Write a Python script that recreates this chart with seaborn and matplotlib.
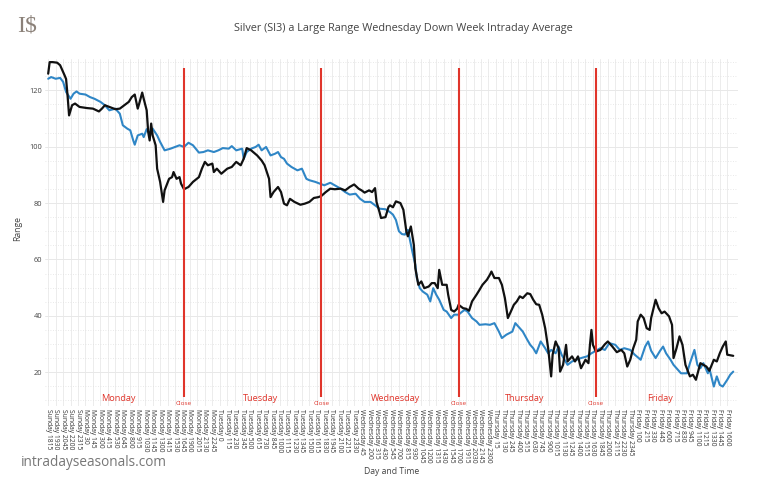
import matplotlib
matplotlib.use("Agg")
import matplotlib.pyplot as plt
import seaborn as sns
import pandas as pd

# trading sessions: evening of one day through 17:00 of the next, 15 minute bars
days = ["Sunday", "Monday", "Tuesday", "Wednesday", "Thursday", "Friday"]
evening_times = [1815, 1830, 1845, 1900, 1915, 1930, 1945, 2000, 2015, 2030, 2045, 2100,
                 2115, 2130, 2145, 2200, 2215, 2230, 2245, 2300, 2315, 2330, 2345]
morning_times = [h * 100 + m for h in range(0, 17) for m in (0, 15, 30, 45)] + [1700]

# black line: large range wednesday down week
black_idx = [0, 1, 3, 6, 8, 10, 11, 12, 13, 14, 16, 18, 21, 26, 30, 34, 36, 38, 41, 45,
             48, 51, 54, 56, 58, 60, 61, 63, 64, 66, 67, 68, 69, 70, 72, 73, 75, 77, 78, 81,
             83, 84, 86, 88, 89, 91, 94, 97, 101, 103, 105, 107, 110, 111, 113, 116, 120, 123, 126, 129,
             131, 133, 136, 140, 143, 145, 148, 149, 151, 154, 156, 158, 160, 162, 165, 169, 172, 175, 178, 181,
             183, 186, 189, 192, 196, 199, 202, 205, 208, 210, 212, 215, 217, 219, 220, 222, 223, 226, 228, 229,
             231, 233, 236, 238, 240, 241, 243, 245, 246, 248, 250, 252, 255, 257, 259, 261, 262, 264, 267, 268,
             270, 272, 274, 275, 278, 280, 282, 284, 287, 289, 291, 294, 296, 297, 299, 302, 304, 306, 308, 310,
             312, 314, 316, 318, 321, 323, 325, 327, 329, 331, 333, 335, 337, 338, 340, 342, 343, 345, 347, 348,
             351, 353, 355, 357, 360, 362, 363, 364, 365, 367, 370, 373, 375, 378, 381, 384, 386, 388, 390, 392,
             394, 395, 397, 399, 401, 403, 404, 407, 409, 411, 413, 416, 418, 419, 421, 423, 425, 427, 430, 432,
             434, 437, 439, 441, 443, 446, 448, 450, 452, 454, 455, 458, 459]
black_val = [125.9, 130.0, 130.0, 129.8, 128.9, 126.5, 125.3, 124.0, 118.0, 111.1, 114.7, 115.3, 114.1, 113.7, 113.5, 112.5, 113.5, 114.7, 114.1, 113.3,
             113.5, 114.7, 115.9, 117.6, 118.5, 113.5, 115.3, 119.2, 117.0, 112.9, 105.2, 102.2, 108.2, 104.0, 100.5, 92.2, 87.5, 80.4, 84.5, 88.6,
             89.2, 91.0, 88.6, 89.2, 86.9, 84.9, 85.7, 87.5, 89.2, 92.2, 94.6, 93.4, 94.0, 91.0, 92.2, 90.4, 92.2, 92.8, 94.6, 93.4,
             95.7, 99.5, 98.7, 96.9, 95.1, 93.4, 88.6, 82.1, 83.9, 85.7, 83.9, 79.8, 79.2, 81.5, 80.4, 79.4, 79.8, 80.4, 81.8, 82.1,
             82.5, 83.9, 85.1, 84.9, 85.1, 84.5, 85.7, 86.6, 85.1, 84.5, 83.7, 84.5, 83.9, 85.3, 80.4, 76.8, 74.7, 75.0, 78.6, 79.2,
             78.5, 80.6, 80.0, 77.6, 69.9, 68.2, 71.7, 65.2, 56.9, 51.0, 52.2, 49.8, 50.4, 51.6, 51.6, 49.8, 56.3, 51.0, 51.0, 47.5,
             42.1, 41.5, 42.5, 43.9, 42.7, 42.5, 41.8, 45.1, 47.5, 49.2, 51.0, 52.8, 54.6, 55.7, 53.4, 53.4, 51.0, 46.3, 39.2, 41.5,
             43.9, 45.1, 46.9, 46.3, 48.0, 47.7, 45.7, 44.1, 43.9, 40.4, 35.6, 28.5, 18.5, 26.2, 30.9, 28.5, 20.2, 22.6, 29.7, 23.8,
             25.6, 23.8, 25.6, 21.4, 24.4, 23.2, 29.7, 35.0, 29.7, 27.3, 27.9, 29.9, 30.9, 29.1, 27.1, 27.9, 26.7, 22.0, 24.4, 28.5,
             31.5, 38.0, 40.4, 39.2, 35.6, 35.0, 39.2, 45.7, 42.7, 40.9, 41.5, 39.8, 36.8, 25.0, 28.5, 32.7, 29.7, 22.6, 18.5, 19.1,
             17.3, 23.2, 22.6, 22.0, 20.5, 24.4, 23.8, 26.7, 29.1, 30.9, 26.2, 25.9, 25.8]

# blue line: intraday average
blue_idx = [0, 2, 5, 8, 10, 12, 15, 17, 19, 21, 25, 28, 31, 35, 38, 41, 45, 48, 50, 53,
            55, 57, 58, 60, 63, 64, 66, 68, 70, 73, 75, 78, 82, 85, 88, 91, 94, 97, 101, 104,
            107, 111, 114, 117, 121, 123, 126, 130, 131, 133, 136, 139, 141, 143, 146, 149, 152, 154, 156, 158,
            160, 163, 167, 170, 173, 175, 179, 182, 185, 189, 192, 196, 199, 202, 206, 209, 212, 216, 219, 222,
            226, 229, 231, 233, 235, 237, 239, 241, 244, 246, 247, 249, 251, 254, 256, 258, 260, 262, 265, 267,
            270, 272, 275, 277, 279, 281, 284, 287, 289, 293, 296, 299, 302, 304, 307, 311, 313, 316, 318, 321,
            323, 325, 327, 330, 333, 335, 337, 340, 342, 344, 346, 348, 351, 354, 357, 361, 364, 367, 370, 373,
            376, 380, 383, 386, 390, 393, 397, 400, 402, 404, 407, 410, 412, 414, 417, 419, 421, 424, 428, 430,
            433, 435, 437, 439, 442, 443, 446, 448, 450, 452, 455, 457, 459]
blue_val = [124.1, 124.7, 124.1, 124.4, 123.0, 119.4, 117.0, 118.8, 119.6, 118.8, 118.5, 117.6, 117.0, 115.9, 114.7, 112.9, 113.5, 111.7, 107.6, 106.4,
            105.8, 102.2, 100.7, 104.0, 104.6, 103.4, 106.2, 104.6, 106.4, 104.0, 101.7, 98.7, 99.3, 99.9, 100.5, 99.9, 101.4, 100.5, 97.9, 98.1,
            98.7, 98.1, 98.7, 99.5, 99.3, 100.2, 98.7, 99.3, 95.7, 98.1, 99.3, 99.9, 100.7, 98.7, 99.9, 96.9, 97.5, 98.1, 96.3, 95.7,
            94.0, 92.8, 91.6, 92.2, 88.6, 88.1, 87.5, 86.9, 86.3, 87.2, 86.3, 85.1, 83.9, 83.0, 83.3, 81.5, 80.4, 80.4, 79.2, 78.0,
            77.8, 76.8, 75.9, 74.0, 70.0, 69.0, 68.8, 70.5, 62.8, 58.1, 53.4, 49.8, 48.6, 47.5, 45.1, 49.8, 47.5, 45.7, 42.1, 41.5,
            39.2, 40.4, 40.4, 41.3, 42.1, 41.5, 39.2, 38.0, 36.8, 37.0, 36.8, 37.4, 34.4, 32.1, 33.3, 34.4, 37.4, 35.6, 34.4, 31.5,
            29.7, 28.5, 26.7, 30.9, 28.5, 26.7, 27.9, 26.7, 29.1, 26.2, 24.4, 22.6, 23.8, 24.4, 25.0, 25.6, 26.7, 27.6, 28.5, 27.9,
            30.3, 29.7, 27.9, 28.5, 27.9, 26.2, 24.4, 29.1, 30.9, 27.6, 25.0, 27.6, 29.1, 26.7, 24.4, 22.6, 21.4, 19.6, 19.6, 23.2,
            27.9, 22.6, 21.4, 23.2, 19.6, 21.4, 14.9, 18.5, 15.5, 14.9, 17.3, 19.1, 20.2]

day_names = ["Monday", "Tuesday", "Wednesday", "Thursday", "Friday"]
day_label_pos = [47, 142, 233, 319, 410]

# category labels for every bar of the week
labels = []
for s in range(5):
    labels += [f"{days[s]} {t}" for t in evening_times]
    labels += [f"{days[s + 1]} {t}" for t in morning_times]
close_pos = [i for i, l in enumerate(labels) if l.endswith(" 1700") and not l.startswith("Friday")]

black = pd.DataFrame({"bar": black_idx, "range": black_val})
blue = pd.DataFrame({"bar": blue_idx, "range": blue_val})

sns.set_theme(style="white")
plt.rcParams['font.family'] = ['Open Sans', 'DejaVu Sans']

fig = plt.figure(figsize=(7.68, 4.84), dpi=100)
ax = fig.add_axes([45.2 / 768, 1 - 406 / 484, 692.5 / 768, 346.7 / 484])

red = "#e0352b"
sns.lineplot(data=blue, x="bar", y="range", ax=ax, color="#2f86c6", lw=1.5, sort=False)
sns.lineplot(data=black, x="bar", y="range", ax=ax, color="#111111", lw=1.6, sort=False)

ax.vlines(close_pos, 11.3, 127.9, color=red, lw=1.5, zorder=3)
for x in close_pos:
    ax.text(x, 9.0, "Close", color=red, fontsize=4.6, ha="center", va="center")
for name, x in zip(day_names, day_label_pos):
    ax.text(x, 10.8, name, color=red, fontsize=6.6, ha="center", va="center")

ax.set_xlim(-2, len(labels) + 2)
ax.set_ylim(8, 131)
ax.set_xticks(range(0, len(labels), 5))
ax.set_xticklabels(labels[::5], rotation=-90, fontsize=4.9, color="#333333", va="top", ha="center")
ax.set_yticks([20, 40, 60, 80, 100, 120])
ax.set_yticks(range(10, 131, 5), minor=True)
ax.tick_params(axis="both", length=0, pad=2)
ax.tick_params(axis="y", labelsize=5.4, labelcolor="#444444")

ax.grid(axis="x", color="#ececec", lw=0.7)
ax.grid(axis="y", which="major", color="#e8e8e8", lw=0.7)
ax.grid(axis="y", which="minor", color="#e2e2e2", lw=0.6, ls=(0, (1, 2)))
for sp in ax.spines.values():
    sp.set_visible(False)

ax.set_xlabel("Day and Time", fontsize=6.2, color="#444444")
ax.set_ylabel("Range", fontsize=6.2, color="#444444")
ax.xaxis.set_label_coords(0.5, -0.176)
ax.yaxis.set_label_coords(-0.034, 0.513)

fig.text(403 / 768, 1 - 28 / 484, "Silver (SI3) a Large Range Wednesday Down Week Intraday Average",
         ha="center", va="center", fontsize=7.8, color="#444444")
fig.text(17 / 768, 1 - 26 / 484, "I$", ha="left", va="center", fontsize=17,
         family=["Liberation Serif", "DejaVu Serif"], color="#8b8179")
fig.text(21 / 768, 1 - 462 / 484, "intradayseasonals.com", ha="left", va="center",
         fontsize=9.8, color="#777777")

fig.savefig("out.png", dpi=100)
